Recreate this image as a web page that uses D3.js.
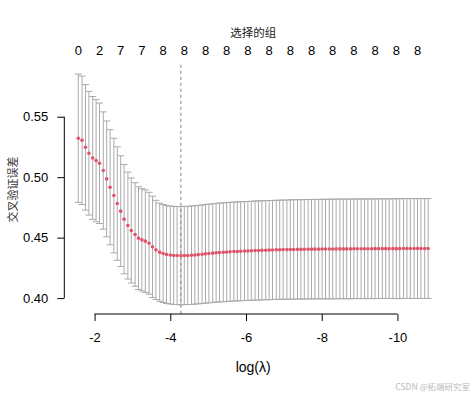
<!DOCTYPE html>
<html>
<head>
<meta charset="utf-8">
<script src="https://cdn.jsdelivr.net/npm/d3@7"></script>
<style>
  body { margin: 0; background: #fff; }
  text { font-family: "Liberation Sans", Arial, sans-serif; }
  .cjk { font-family: "Noto Sans CJK SC", sans-serif; }
</style>
</head>
<body>
<div class="viz"></div>
<script>
// log(lambda) path, 100 values
const logLambda = [
  -1.57, -1.67, -1.76, -1.85, -1.95, -2.04, -2.13, -2.23, -2.32, -2.41,
  -2.51, -2.60, -2.69, -2.78, -2.88, -2.97, -3.07, -3.16, -3.25, -3.34,
  -3.44, -3.53, -3.62, -3.72, -3.81, -3.90, -4.00, -4.09, -4.18, -4.28,
  -4.37, -4.46, -4.56, -4.65, -4.74, -4.84, -4.93, -5.02, -5.12, -5.21,
  -5.30, -5.40, -5.49, -5.58, -5.68, -5.77, -5.86, -5.96, -6.05, -6.14,
  -6.24, -6.33, -6.42, -6.52, -6.61, -6.70, -6.80, -6.89, -6.98, -7.08,
  -7.17, -7.26, -7.36, -7.45, -7.54, -7.64, -7.73, -7.82, -7.92, -8.01,
  -8.10, -8.20, -8.29, -8.38, -8.48, -8.57, -8.66, -8.76, -8.85, -8.94,
  -9.04, -9.13, -9.22, -9.32, -9.41, -9.50, -9.60, -9.69, -9.78, -9.88,
  -9.97, -10.06, -10.16, -10.25, -10.34, -10.44, -10.53, -10.62, -10.72, -10.81
]

// mean cross-validated error
const cvm = [
  0.5322, 0.5305, 0.5247, 0.5198, 0.5159, 0.5137, 0.5115, 0.5055, 0.4986, 0.4917,
  0.4848, 0.4782, 0.4719, 0.4653, 0.4600, 0.4559, 0.4526, 0.4496, 0.4482, 0.4471,
  0.4454, 0.4424, 0.4399, 0.4380, 0.4369, 0.4361, 0.4356, 0.4353, 0.4352, 0.4351,
  0.4352, 0.4353, 0.4355, 0.4357, 0.4360, 0.4363, 0.4366, 0.4369, 0.4372, 0.4375,
  0.4377, 0.4379, 0.4381, 0.4383, 0.4385, 0.4386, 0.4388, 0.4389, 0.4390, 0.4392,
  0.4393, 0.4394, 0.4395, 0.4396, 0.4397, 0.4398, 0.4399, 0.4400, 0.4401, 0.4401,
  0.4402, 0.4402, 0.4403, 0.4403, 0.4404, 0.4404, 0.4405, 0.4405, 0.4405, 0.4406,
  0.4406, 0.4406, 0.4406, 0.4407, 0.4407, 0.4407, 0.4407, 0.4407, 0.4408, 0.4408,
  0.4408, 0.4408, 0.4408, 0.4408, 0.4409, 0.4409, 0.4409, 0.4409, 0.4409, 0.4409,
  0.4409, 0.4409, 0.4410, 0.4410, 0.4410, 0.4410, 0.4410, 0.4410, 0.4410, 0.4410
]

// standard error of the cv error
const cvsd = [
  0.0531, 0.0531, 0.0519, 0.0511, 0.0508, 0.0505, 0.0498, 0.0485, 0.0479, 0.0476,
  0.0474, 0.0469, 0.0458, 0.0452, 0.0442, 0.0434, 0.0428, 0.0425, 0.0423, 0.0424,
  0.0421, 0.0419, 0.0410, 0.0406, 0.0405, 0.0405, 0.0405, 0.0406, 0.0405, 0.0406,
  0.0406, 0.0406, 0.0407, 0.0407, 0.0407, 0.0407, 0.0408, 0.0408, 0.0408, 0.0408,
  0.0409, 0.0409, 0.0409, 0.0409, 0.0409, 0.0409, 0.0409, 0.0409, 0.0409, 0.0409,
  0.0410, 0.0410, 0.0410, 0.0410, 0.0410, 0.0410, 0.0410, 0.0410, 0.0410, 0.0410,
  0.0411, 0.0411, 0.0411, 0.0411, 0.0411, 0.0411, 0.0411, 0.0411, 0.0411, 0.0411,
  0.0412, 0.0412, 0.0412, 0.0412, 0.0412, 0.0412, 0.0412, 0.0412, 0.0412, 0.0412,
  0.0412, 0.0412, 0.0412, 0.0412, 0.0412, 0.0412, 0.0412, 0.0412, 0.0412, 0.0412,
  0.0413, 0.0413, 0.0413, 0.0413, 0.0413, 0.0413, 0.0413, 0.0413, 0.0413, 0.0413
]

// number of groups kept, shown at every 6th lambda on the top
const nzeroLabels = [0, 2, 7, 7, 8, 8, 8, 8, 8, 8, 8, 8, 8, 8, 8, 8, 8]
const nzeroStep = 6
const minIndex = 29

const xTicks = [-2, -4, -6, -8, -10]
const yTicks = [0.40, 0.45, 0.50, 0.55]

const width = 474
const height = 395
const plot = { left: 64.3, right: 442.1, top: 64.8, bottom: 314 }

const svg = d3.select('.viz')
  .append('svg')
    .attr('width', width)
    .attr('height', height)

const data = logLambda.map((l, i) => ({
  l,
  m: cvm[i],
  up: cvm[i] + cvsd[i],
  lo: cvm[i] - cvsd[i]
}))

// R-style 4% padding round the data range
const pad = ([a, b]) => { const d = (b - a) * 0.04; return [a - d, b + d] }
const xExt = pad(d3.extent(logLambda))
const yExt = pad([d3.min(data, d => d.lo), d3.max(data, d => d.up)])

const x = d3.scaleLinear().domain([xExt[1], xExt[0]]).range([plot.left, plot.right])
const y = d3.scaleLinear().domain(yExt).range([plot.bottom, plot.top])

// error bars
const barw = (xExt[1] - xExt[0]) / 1.08 * 0.01
const bars = svg.append('g')
  .attr('stroke', '#aaaaaa')
  .attr('stroke-width', 1)
  .selectAll('g')
  .data(data).enter().append('g')

bars.append('line')
  .attr('x1', d => x(d.l)).attr('x2', d => x(d.l))
  .attr('y1', d => y(d.up)).attr('y2', d => y(d.lo))
bars.append('line')
  .attr('x1', d => x(d.l + barw)).attr('x2', d => x(d.l - barw))
  .attr('y1', d => y(d.up)).attr('y2', d => y(d.up))
bars.append('line')
  .attr('x1', d => x(d.l + barw)).attr('x2', d => x(d.l - barw))
  .attr('y1', d => y(d.lo)).attr('y2', d => y(d.lo))

// lambda.min marker
svg.append('line')
  .attr('x1', x(logLambda[minIndex])).attr('x2', x(logLambda[minIndex]))
  .attr('y1', plot.top).attr('y2', plot.bottom)
  .attr('stroke', '#808080')
  .attr('stroke-dasharray', '3,3')

// mean points
svg.append('g')
  .selectAll('circle')
  .data(data).enter().append('circle')
    .attr('cx', d => x(d.l))
    .attr('cy', d => y(d.m))
    .attr('r', 1.8)
    .attr('fill', '#DF536B')

// bottom axis
const xAxis = svg.append('g')
  .attr('transform', `translate(0,${plot.bottom})`)
  .call(d3.axisBottom(x).tickValues(xTicks).tickSize(7).tickPadding(12).tickFormat(d3.format('d')))
xAxis.select('.domain').remove()
xAxis.append('line')
  .attr('x1', x(xTicks[0])).attr('x2', x(xTicks[xTicks.length - 1]))
  .attr('stroke', '#000')
xAxis.selectAll('text').attr('font-size', 13).attr('fill', '#000')
  .text(d => d < 0 ? '-' + Math.abs(d) : d)

// left axis
const yAxis = svg.append('g')
  .attr('transform', `translate(${plot.left},0)`)
  .call(d3.axisLeft(y).tickValues(yTicks).tickSize(7).tickPadding(9).tickFormat(d3.format('.2f')))
yAxis.select('.domain').remove()
yAxis.append('line')
  .attr('y1', y(yTicks[0])).attr('y2', y(yTicks[yTicks.length - 1]))
  .attr('stroke', '#000')
yAxis.selectAll('text').attr('font-size', 13).attr('fill', '#000')

// top axis: groups selected
const topAt = nzeroLabels.map((n, i) => ({ n, l: logLambda[i * nzeroStep] }))
svg.append('g')
  .selectAll('text')
  .data(topAt).enter().append('text')
    .attr('x', d => x(d.l))
    .attr('y', 54.5)
    .attr('text-anchor', 'middle')
    .attr('font-size', 13)
    .text(d => d.n)

svg.append('text')
  .attr('class', 'cjk')
  .attr('x', (plot.left + plot.right) / 2)
  .attr('y', 37)
  .attr('text-anchor', 'middle')
  .attr('font-size', 11.5)
  .attr('fill', '#222')
  .text('选择的组')

svg.append('text')
  .attr('x', (plot.left + plot.right) / 2)
  .attr('y', 372)
  .attr('text-anchor', 'middle')
  .attr('font-size', 14)
  .text('log(λ)')

svg.append('text')
  .attr('class', 'cjk')
  .attr('transform', `translate(17,${(plot.top + plot.bottom) / 2}) rotate(-90)`)
  .attr('text-anchor', 'middle')
  .attr('font-size', 11)
  .attr('fill', '#333')
  .text('交叉验证误差')

// watermark
svg.append('text')
  .attr('class', 'cjk')
  .attr('x', 470)
  .attr('y', 390)
  .attr('text-anchor', 'end')
  .attr('font-size', 8.5)
  .attr('fill', '#bbb')
  .text('CSDN @拓端研究室')
</script>
</body>
</html>
